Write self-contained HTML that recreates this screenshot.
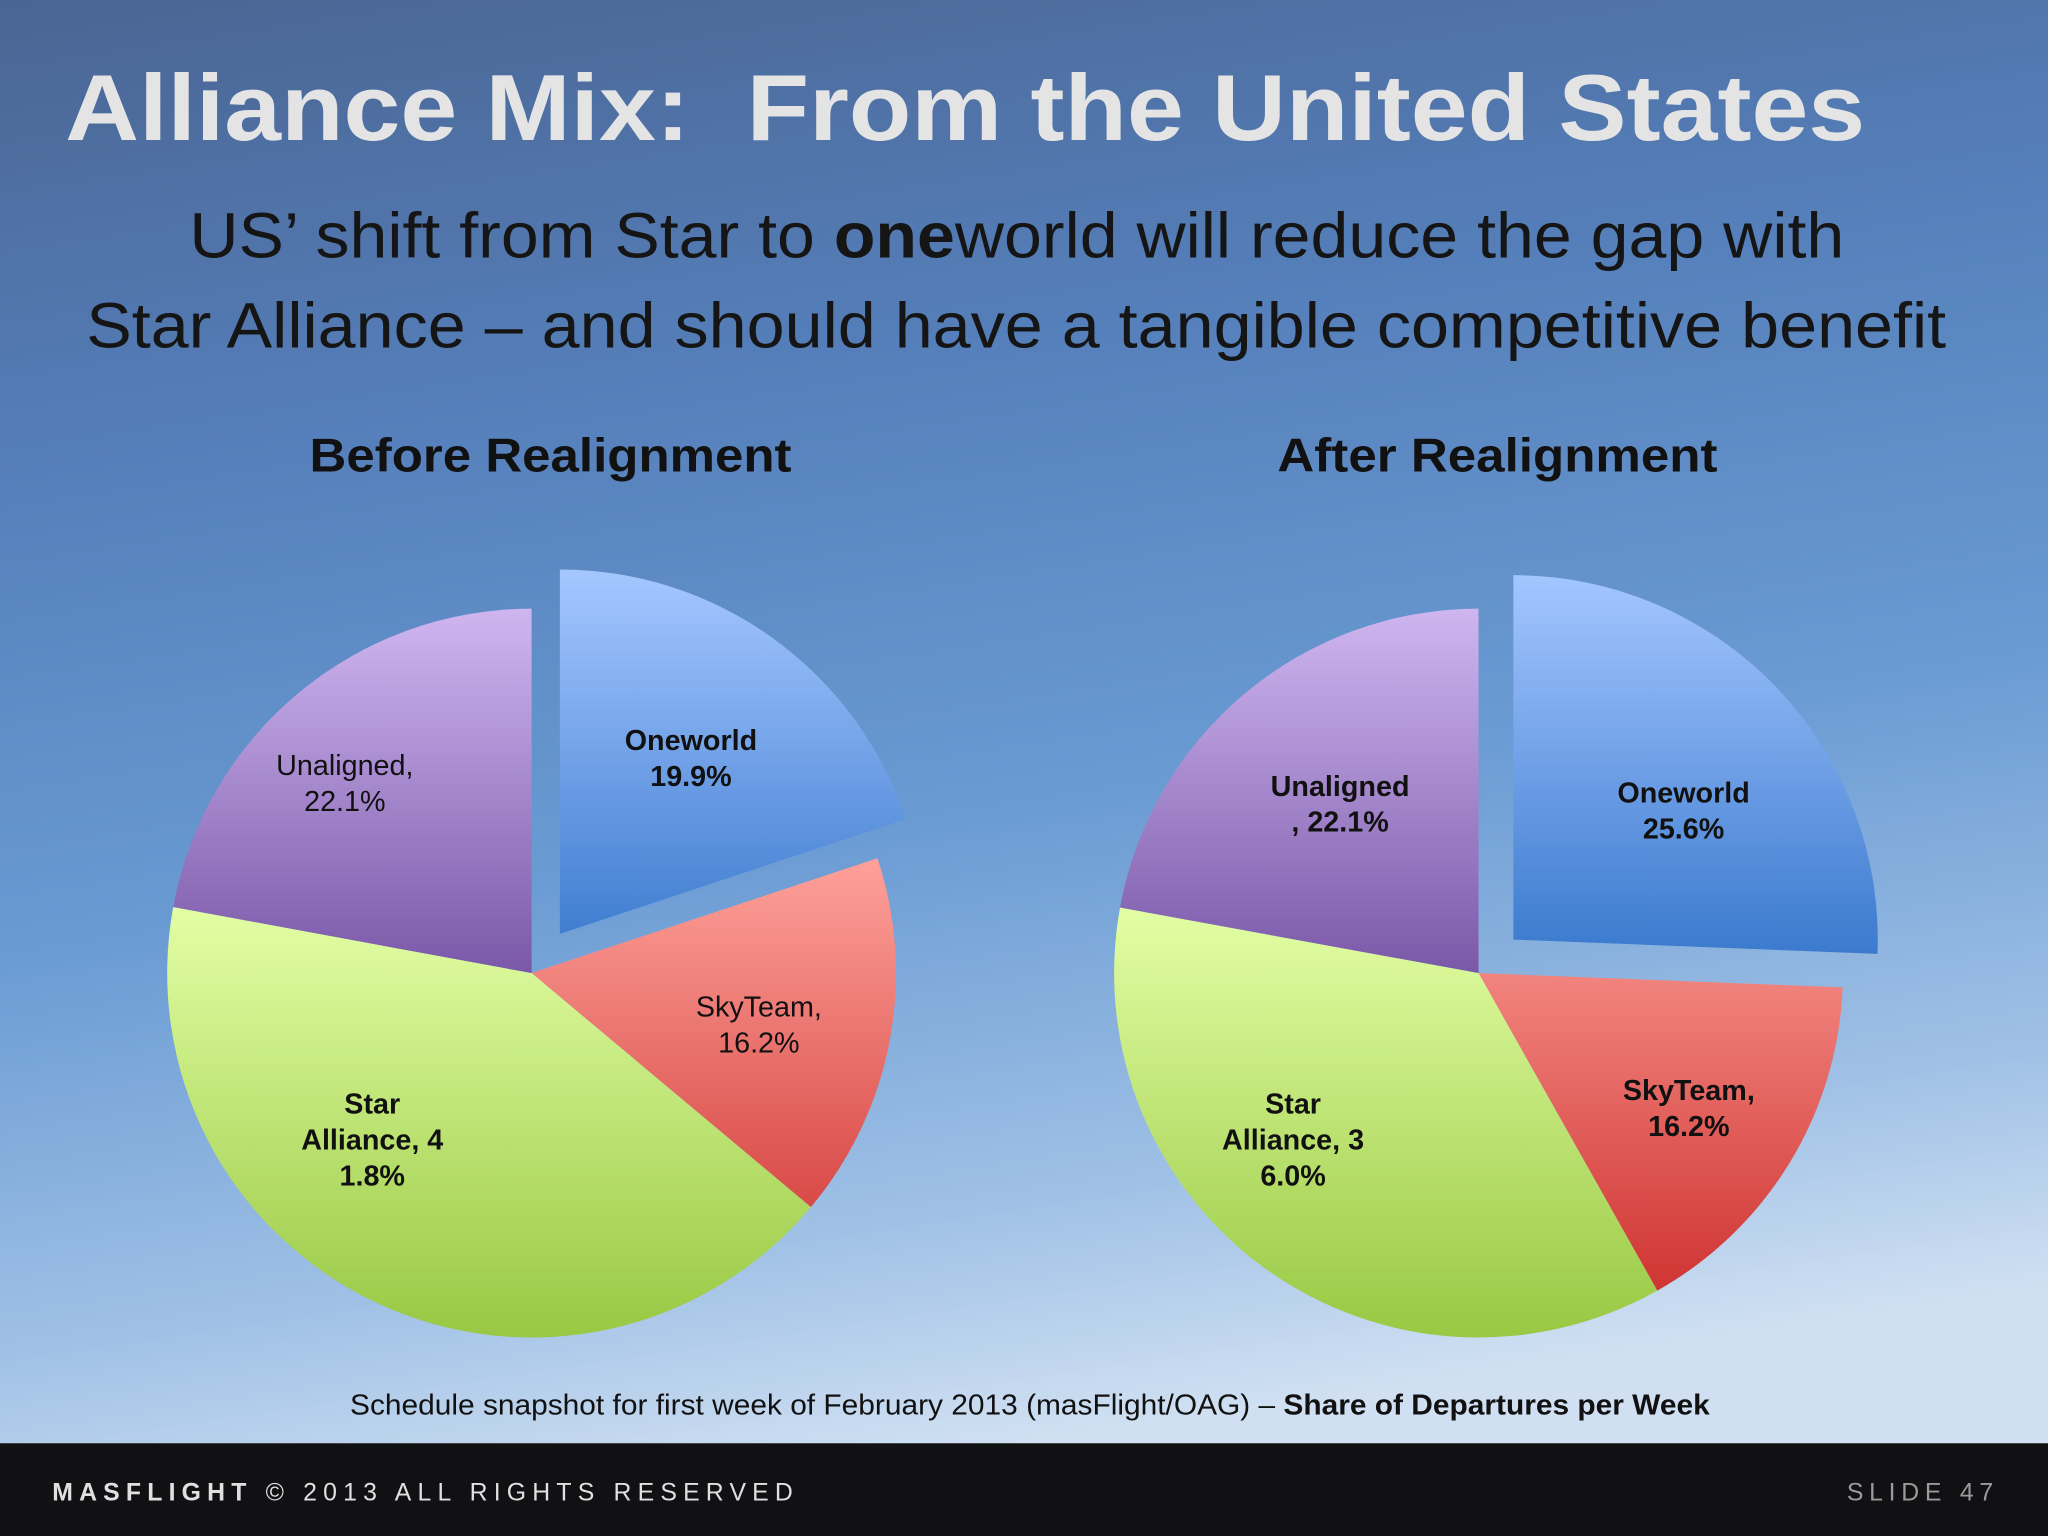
<!DOCTYPE html>
<html><head><meta charset="utf-8"><style>
html,body{margin:0;padding:0;width:2048px;height:1536px;overflow:hidden;background:#5b7fb0}
svg{display:block}
text{font-family:"Liberation Sans",Arial,sans-serif}
</style></head><body>
<svg id="s" width="2048" height="1536" viewBox="0 0 1568 1176">
<defs>
<linearGradient id="sky" x1="0" y1="0" x2="0.2" y2="1">
<stop offset="0" stop-color="#4a6593"/><stop offset="0.3" stop-color="#557fba"/><stop offset="0.6" stop-color="#6a9bd3"/><stop offset="0.85" stop-color="#a0c1e6"/><stop offset="1" stop-color="#d0e0f2"/>
</linearGradient>
<linearGradient id="g0" gradientUnits="userSpaceOnUse" x1="0" y1="440" x2="0" y2="730"><stop offset="0" stop-color="#a4c6ff"/><stop offset="1" stop-color="#3b7ace"/></linearGradient>
<linearGradient id="g1" gradientUnits="userSpaceOnUse" x1="0" y1="650" x2="0" y2="990"><stop offset="0" stop-color="#ffa39c"/><stop offset="1" stop-color="#cf3432"/></linearGradient>
<linearGradient id="g2" gradientUnits="userSpaceOnUse" x1="0" y1="690" x2="0" y2="1025"><stop offset="0" stop-color="#e4ffa6"/><stop offset="1" stop-color="#98c843"/></linearGradient>
<linearGradient id="g3" gradientUnits="userSpaceOnUse" x1="0" y1="466" x2="0" y2="745"><stop offset="0" stop-color="#cfb6f0"/><stop offset="1" stop-color="#7a58a8"/></linearGradient>
</defs>
<rect width="1568" height="1176" fill="url(#sky)"/>
<text x="50" y="107" font-size="72" font-weight="bold" fill="#e4e4e4" textLength="1378" lengthAdjust="spacingAndGlyphs" xml:space="preserve">Alliance Mix:  From the United States</text>
<text x="145" y="197" font-size="49" fill="#151515" textLength="1267" lengthAdjust="spacingAndGlyphs">US’ shift from Star to <tspan font-weight="bold">one</tspan>world will reduce the gap with</text>
<text x="66" y="266" font-size="49" fill="#151515" textLength="1424" lengthAdjust="spacingAndGlyphs">Star Alliance – and should have a tangible competitive benefit</text>
<text x="237" y="361" font-size="36" font-weight="bold" fill="#111" textLength="369" lengthAdjust="spacingAndGlyphs">Before Realignment</text>
<text x="978" y="361" font-size="36" font-weight="bold" fill="#111" textLength="337" lengthAdjust="spacingAndGlyphs">After Realignment</text>
<g id="pies"></g>
<text x="268" y="1083" font-size="22" fill="#111" textLength="1041" lengthAdjust="spacingAndGlyphs">Schedule snapshot for first week of February 2013 (masFlight/OAG) – <tspan font-weight="bold">Share of Departures per Week</tspan></text>
<rect x="0" y="1105" width="1568" height="71" fill="#111013"/>
<text x="40" y="1149" font-size="19" fill="#e0e0e0" textLength="567" lengthAdjust="spacing"><tspan font-weight="bold">MASFLIGHT</tspan> © 2013 ALL RIGHTS RESERVED</text>
<text x="1414" y="1149" font-size="19" fill="#9a9a9a" textLength="112" lengthAdjust="spacing">SLIDE 47</text>
</svg>
<script>
const categories = ["Oneworld","SkyTeam","Star Alliance","Unaligned"];
const beforeValues = [19.9, 16.2, 41.8, 22.1];
const afterValues = [25.6, 16.2, 36.0, 22.1];
const beforeLabels = [["Oneworld","19.9%"],["SkyTeam,","16.2%"],["Star","Alliance, 4","1.8%"],["Unaligned,","22.1%"]];
const afterLabels = [["Oneworld","25.6%"],["SkyTeam,","16.2%"],["Star","Alliance, 3","6.0%"],["Unaligned",", 22.1%"]];
const NS="http://www.w3.org/2000/svg";
const root=document.getElementById('pies');
function pt(cx,cy,r,a){const t=a*Math.PI/180;return [cx+r*Math.sin(t),cy-r*Math.cos(t)];}
function drawPie(name,cx,cy,r,vals,labels,lpos,bold){
  const g=document.createElementNS(NS,'g');
  
  
  root.appendChild(g);
  const tot=vals.reduce((a,b)=>a+b,0);let a0=0;
  vals.forEach((v,i)=>{
    const a1=a0+v/tot*360;let ox=0,oy=0;
    if(i===0){const m=(a0+a1)/2;[ox,oy]=pt(0,0,37,m);}
    const c=[cx+ox,cy+oy];const p0=pt(c[0],c[1],r,a0),p1=pt(c[0],c[1],r,a1);
    const path=document.createElementNS(NS,'path');
    path.setAttribute('d',`M${c[0]},${c[1]} L${p0[0]},${p0[1]} A${r},${r} 0 ${a1-a0>180?1:0} 1 ${p1[0]},${p1[1]} Z`);
    path.setAttribute('fill',`url(#g${i})`);
    
    
    g.appendChild(path);a0=a1;
  });
  labels.forEach((ls,i)=>{
    const t=document.createElementNS(NS,'text');
    t.setAttribute('text-anchor','middle');t.setAttribute('font-size','22');t.setAttribute('fill','#111');
    if(bold[i])t.setAttribute('font-weight','bold');
    
    
    const y0=lpos[i][1]-(ls.length-1)*13.7+8;
    ls.forEach((s,k)=>{const sp=document.createElementNS(NS,'tspan');sp.setAttribute('x',lpos[i][0]);sp.setAttribute('y',y0+k*27.5);sp.textContent=s;t.appendChild(sp);});
    g.appendChild(t);
  });
}
drawPie('before-pie',407,745,279,beforeValues,beforeLabels,[[529,580],[581,784],[285,872],[264,599]],[1,0,1,0]);
drawPie('after-pie',1132,745,279,afterValues,afterLabels,[[1289,620],[1293,848],[990,872],[1026,615]],[1,1,1,1]);
</script>
</body></html>
